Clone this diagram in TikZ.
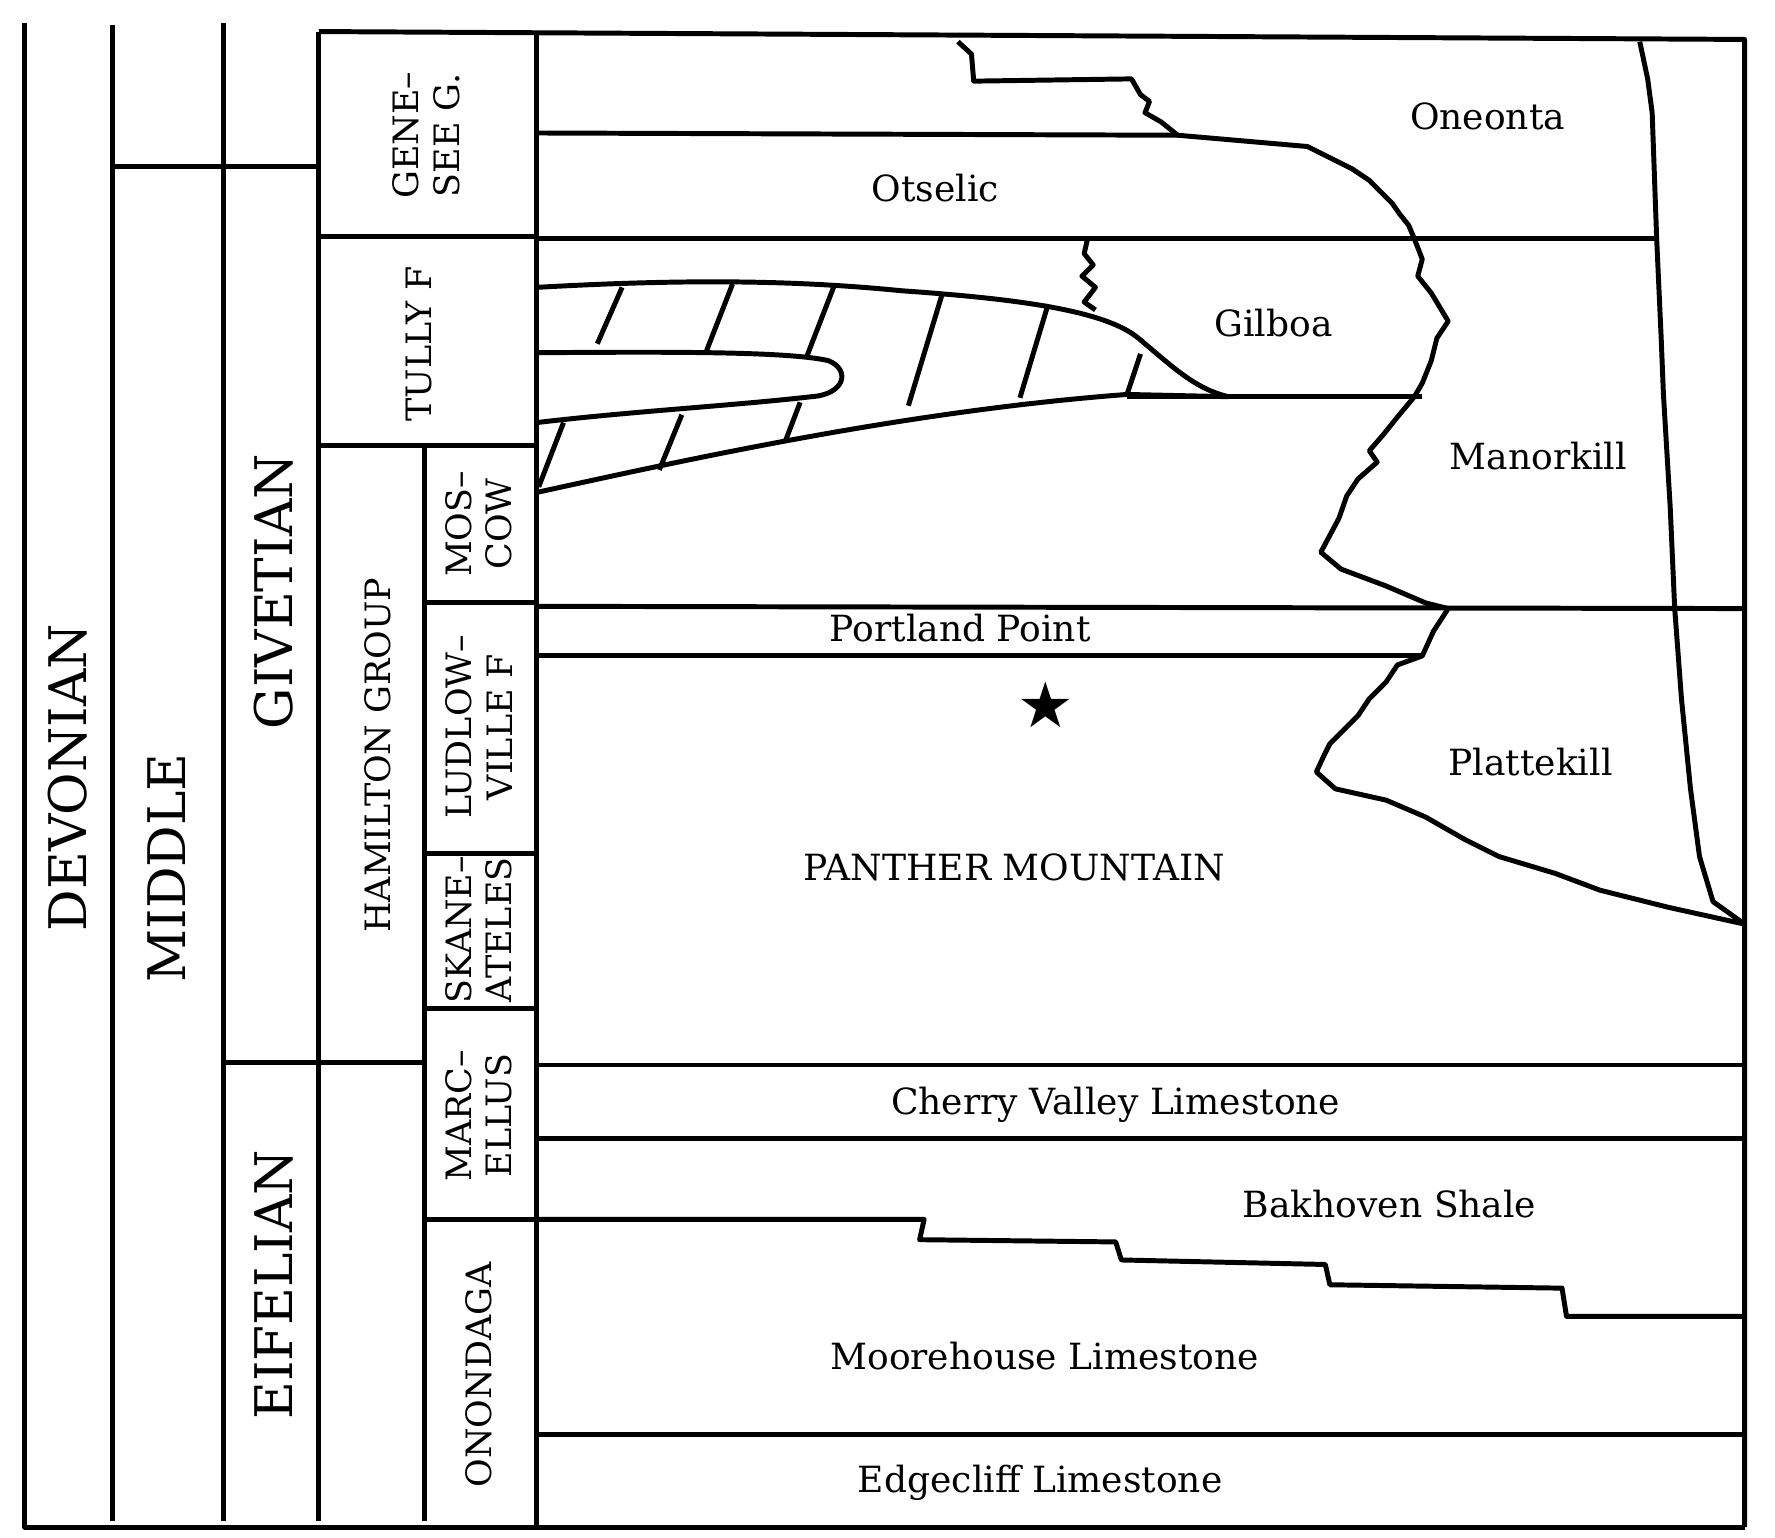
\documentclass[tikz,border=0pt]{standalone}
\usepackage{fontspec}
\setmainfont{DejaVu Serif}
\newfontfamily\symfont{DejaVu Sans}
\begin{document}
\begin{tikzpicture}[x=0.5pt,y=-0.5pt,line width=2.2pt,line join=round,
  lab/.style={font=\fontsize{16}{18}\selectfont},
  vlab/.style={font=\fontsize{15.5}{18}\selectfont,rotate=90,align=center,inner sep=0pt},
  big/.style={font=\fontsize{23}{25}\selectfont,rotate=90,inner sep=0pt}]
\useasboundingbox (0,0) rectangle (1575,1364);
% left frame columns
\draw (22,20) -- (22,1355) -- (1548,1355);
\draw (100,22) -- (100,1350);
\draw (198,20) -- (198,1350);
\draw (100,148) -- (283,148);
\draw (198,943) -- (377,943);
\draw (283,28) -- (283,1350);
\draw (283,28) -- (1548,35) -- (1548,1355);
\draw (476,28) -- (476,1355);
\draw (283,210) -- (476,210);
\draw (283,395) -- (476,395);
\draw (377,395) -- (377,1350);
\draw (377,535) -- (476,535);
\draw (377,757) -- (476,757);
\draw (377,895) -- (476,895);
\draw (377,1082) -- (476,1082);
% right area horizontals
\draw (476,118) -- (1045,120);
\draw (476,212) -- (1470,212);
\draw (1000,352) -- (1262,352);
\draw (476,538) -- (1548,540);
\draw (476,582) -- (1262,582);
\draw (476,945) -- (1548,945);
\draw (476,1010) -- (1548,1010);
\draw (476,1273) -- (1548,1273);
\draw (476,1082) -- (820,1082) -- (816,1100) -- (990,1102) -- (995,1118) -- (1176,1122) -- (1180,1140) -- (1386,1143) -- (1390,1168) -- (1548,1168);
% Oneonta / Manorkill / Plattekill boundary
\draw (850,37) -- (862,48) -- (864,72) -- (1004,70) -- (1012,84) -- (1020,90) -- (1016,100) -- (1030,108) -- (1045,120)
 -- (1160,130) -- (1200,150) -- (1215,160) -- (1225,170) -- (1235,180) -- (1242,190) -- (1250,200) -- (1255,212)
 -- (1262,230) -- (1258,245) -- (1270,260) -- (1285,285) -- (1275,300) -- (1270,320) -- (1262,340) -- (1255,352)
 -- (1240,370) -- (1228,385) -- (1215,400) -- (1222,410) -- (1205,425) -- (1195,440) -- (1188,460) -- (1180,475) -- (1172,490)
 -- (1190,505) -- (1230,520) -- (1265,535) -- (1285,540) -- (1272,560) -- (1262,582) -- (1240,590) -- (1230,605)
 -- (1215,620) -- (1205,635) -- (1195,645) -- (1180,660) -- (1175,670) -- (1168,685) -- (1185,700) -- (1230,710)
 -- (1265,725) -- (1300,745) -- (1330,760) -- (1380,775) -- (1420,790) -- (1480,805) -- (1548,820);
\draw (1455,37) -- (1462,70) -- (1466,100) -- (1470,212) -- (1474,300) -- (1476,350) -- (1482,450) -- (1486,540)
 -- (1492,620) -- (1500,700) -- (1508,760) -- (1520,800) -- (1548,820);
% Gilboa jag
\draw (965,212) -- (962,225) -- (970,235) -- (960,245) -- (972,255) -- (962,268) -- (972,275);
% Tully tongue
\draw (476,255) .. controls (600,248) and (700,248) .. (800,258) .. controls (900,265) and (980,275) .. (1010,300) .. controls (1040,325) and (1060,345) .. (1090,352);
\draw (476,437) .. controls (600,410) and (800,365) .. (1000,350) -- (1090,352);
\draw (476,313) .. controls (600,312) and (700,312) .. (735,320) .. controls (755,328) and (750,350) .. (720,352) .. controls (650,360) and (560,365) .. (476,375);
% hatches
\draw (530,305) -- (552,255);
\draw (627,311) -- (650,252);
\draw (716,316) -- (740,254);
\draw (806,360) -- (836,261);
\draw (905,353) -- (930,270);
\draw (1000,350) -- (1012,314);
\draw (478,432) -- (500,375);
\draw (585,417) -- (605,368);
\draw (697,391) -- (710,357);
% vertical labels
\node[big] at (60,690) {DEVONIAN};
\node[big] at (148,770) {MIDDLE};
\node[big] at (243,525) {GIVETIAN};
\node[big] at (243,1140) {EIFELIAN};
\node[vlab] at (335,670) {HAMILTON GROUP};
\node[vlab] at (378,120) {GENE–\\SEE G.};
\node[vlab] at (372,305) {TULLY F};
\node[vlab] at (425,465) {MOS–\\COW};
\node[vlab] at (425,645) {LUDLOW–\\VILLE F};
\node[vlab] at (425,825) {SKANE–\\ATELES};
\node[vlab] at (425,990) {MARC–\\ELLUS};
\node[vlab] at (425,1220) {ONONDAGA};
% unit labels
\node[lab] at (1320,103) {Oneonta};
\node[lab] at (830,167) {Otselic};
\node[lab] at (1130,287) {Gilboa};
\node[lab] at (1365,405) {Manorkill};
\node[lab] at (852,557) {Portland Point};
\node[font=\symfont\fontsize{28}{28}\selectfont] at (928,625) {★};
\node[lab] at (1358,676) {Plattekill};
\node[lab] at (900,770) {PANTHER MOUNTAIN};
\node[lab] at (990,980) {Cherry Valley Limestone};
\node[lab] at (1233,1068) {Bakhoven Shale};
\node[lab] at (927,1203) {Moorehouse Limestone};
\node[lab] at (923,1316) {Edgecliff Limestone};
\end{tikzpicture}
\end{document}
